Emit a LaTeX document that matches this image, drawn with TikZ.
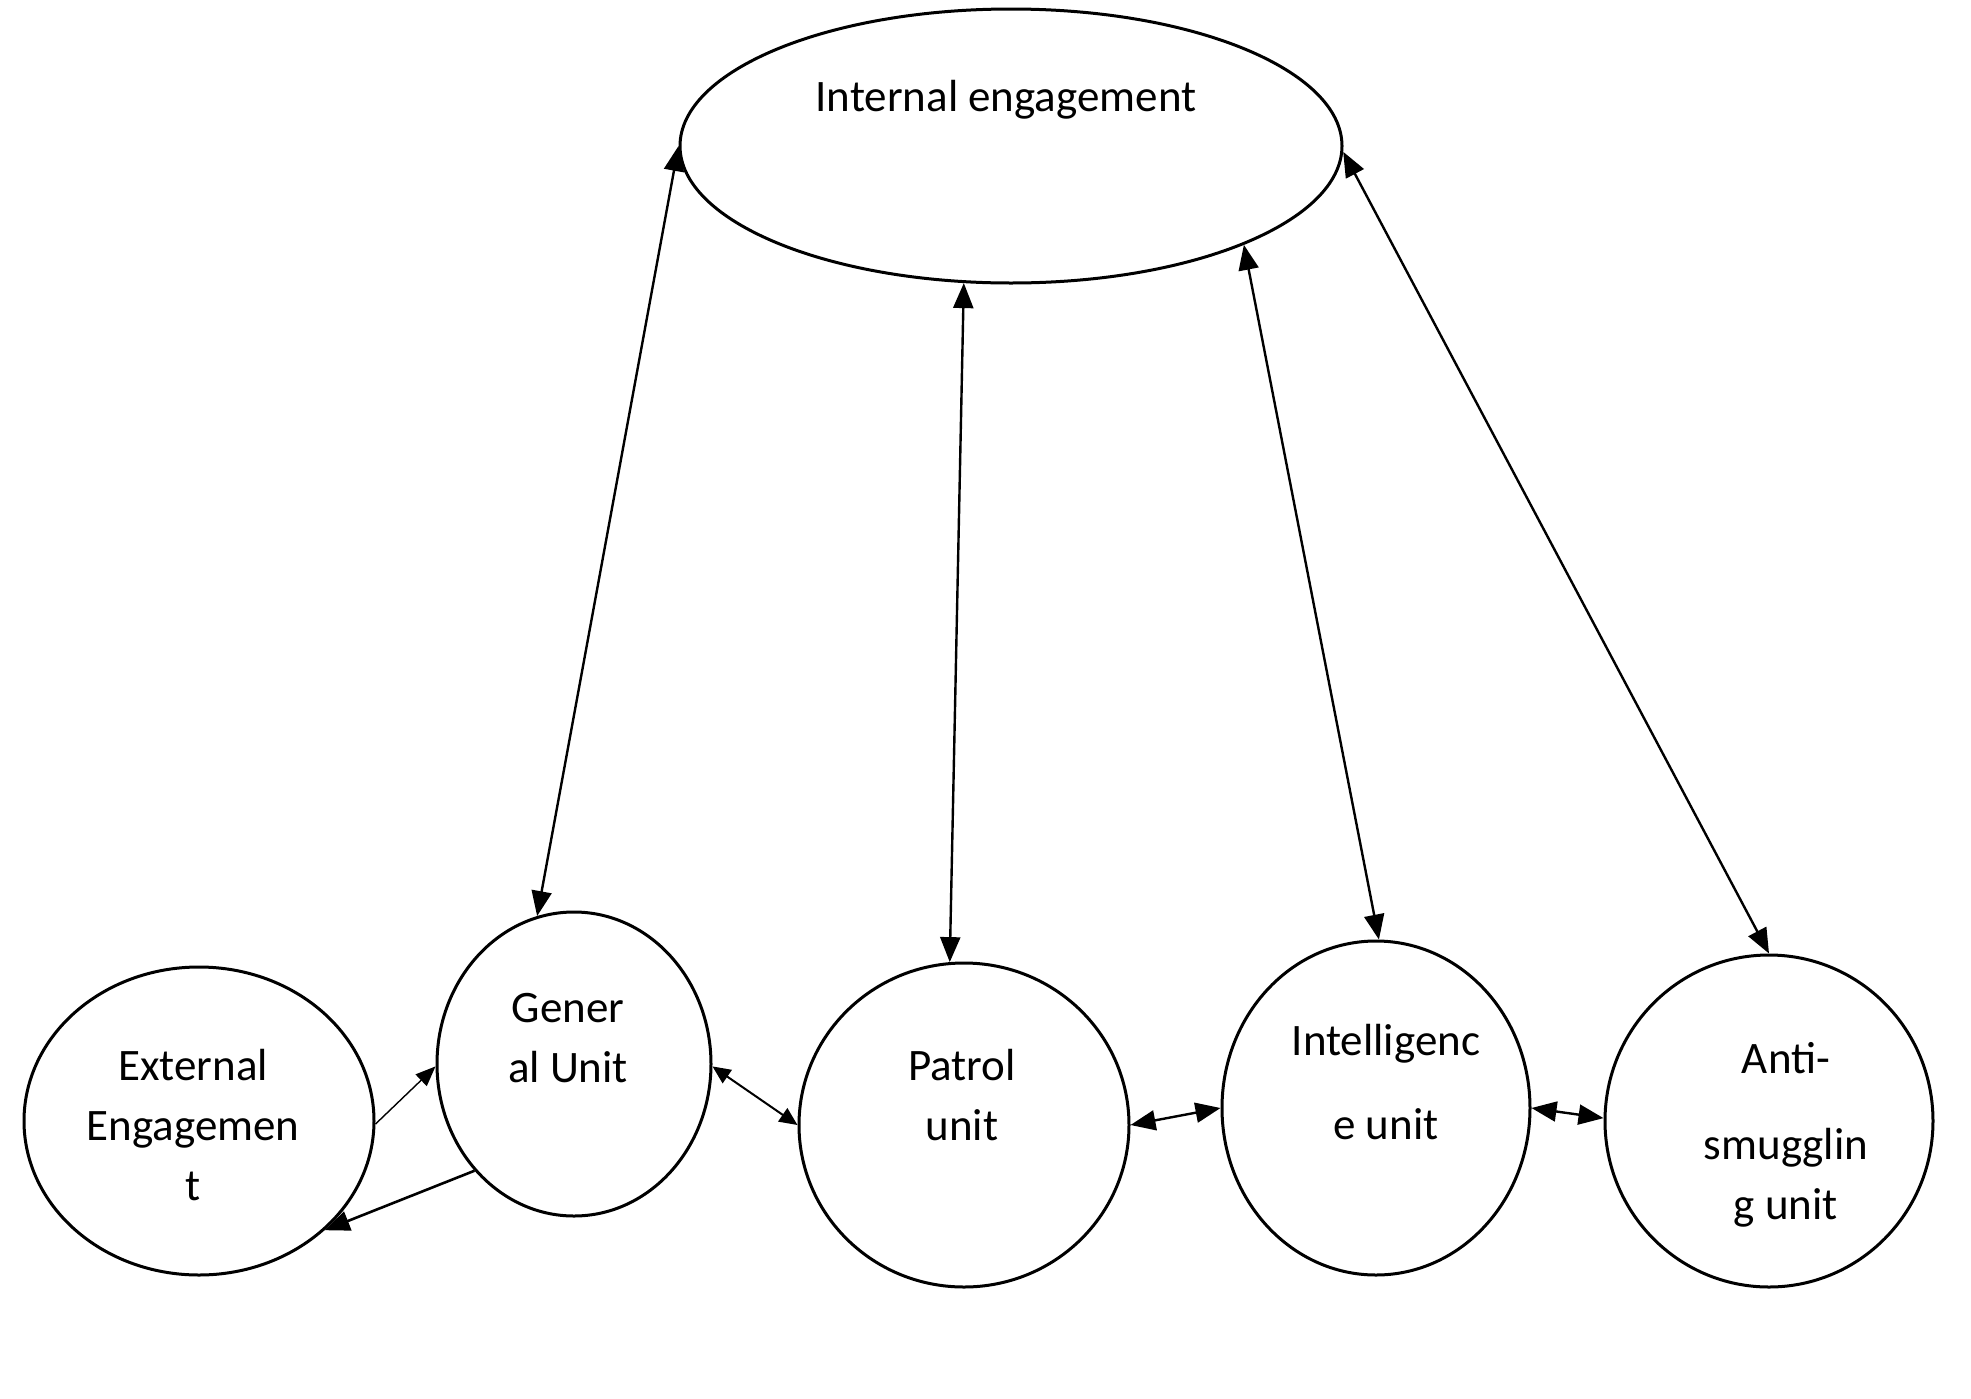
\documentclass[tikz,border=0pt]{standalone}
\usepackage{fontspec}
\setmainfont{Carlito}
\usetikzlibrary{shapes.geometric,arrows.meta}
\begin{document}
\begin{tikzpicture}[x=0.5pt,y=-0.5pt,
  oval/.style={ellipse,draw,line width=1.5pt,inner sep=0pt},
  lbl/.style={font=\fontsize{22.5}{30}\selectfont,align=center,inner sep=0pt},
  link/.style={line width=1.2pt,{Triangle[length=12.5pt,width=10pt]}-{Triangle[length=12.5pt,width=10pt]}},
  slink/.style={line width=1pt,{Triangle[length=9pt,width=8pt]}-{Triangle[length=9pt,width=8pt]}},
  oneway/.style={line width=1.3pt,-{Triangle[length=12.5pt,width=10pt]}},
  thinway/.style={line width=0.7pt,-{Triangle[length=10pt,width=8pt]}}]
\useasboundingbox (0,0) rectangle (1971,1398);
\fill[white] (0,0) rectangle (1971,1398);

% ellipses
\node[oval,minimum width=331pt,minimum height=137pt] (ie) at (1011,146) {};
\node[oval,minimum width=175pt,minimum height=154pt] (ee) at (199,1121) {};
\node[oval,minimum width=137pt,minimum height=152pt] (gu) at (574,1064) {};
\node[oval,minimum width=165pt,minimum height=162pt] (pu) at (964,1125) {};
\node[oval,minimum width=154pt,minimum height=167pt] (iu) at (1376,1108) {};
\node[oval,minimum width=164pt,minimum height=166pt] (au) at (1769,1121) {};

% labels
\node[lbl] (tie) at (1006,100) {Internal engagement};
\node[lbl] (tee) at (193,1125) {External\\Engagemen\\t};
\node[lbl] (tgu) at (568,1038) {Gener\\al Unit};
\node[lbl] (tpu) at (962,1095) {Patrol\\unit};
\node[lbl] (tiu) at (1386,1082) {Intelligenc\\[12pt]e unit};
\node[lbl] (tau) at (1786,1135) {Anti-\\[13pt]smugglin\\g unit};

% connectors
\draw[link] (ie.180.7) -- (gu.104.3);
\draw[link] (ie.251.7) -- (pu.95);
\draw[link] (ie.337.6) -- (iu.89.6);
\draw[link] (ie.359.5) -- (au.90);
\draw[thinway] (ee.359) -- (gu.181);
\draw[oneway] (gu.227.5) -- (ee.319.5);
\draw[slink] (gu.359.6) -- (pu.180);
\draw[link] (pu.0) -- (iu.180);
\draw[link] (iu.0) -- (au.179);
\end{tikzpicture}
\end{document}
